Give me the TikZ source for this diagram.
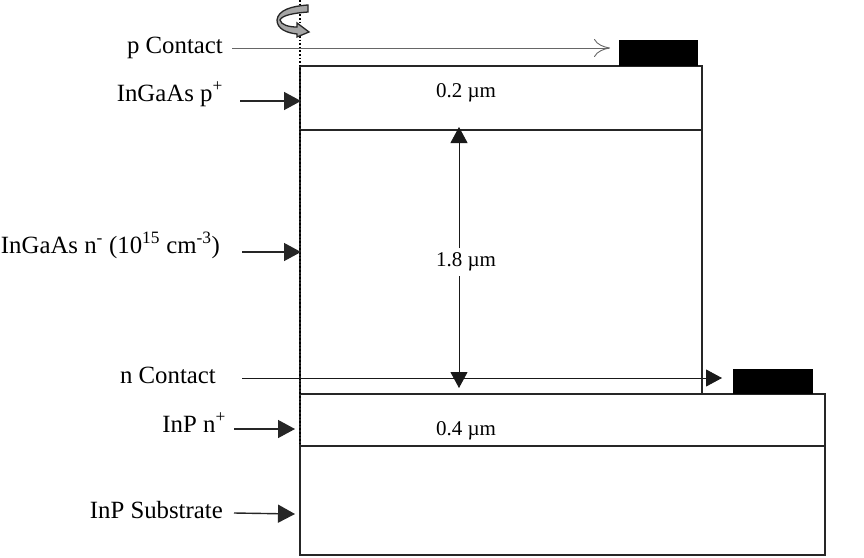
\documentclass[tikz,border=0pt]{standalone}
\usepackage{fontspec}
\setmainfont{Liberation Serif}
\usetikzlibrary{arrows.meta}
\begin{document}
\begin{tikzpicture}[x=1pt,y=-1pt]
      \useasboundingbox (0,0) rectangle (864,557);
      \tikzset{layerbox/.style={draw=black!85,line width=1.5pt},
        contactbox/.style={fill=black,draw=none},
        lbl/.style={font=\fontsize{24.8}{27}\selectfont,inner sep=0pt,anchor=base east},
        thick/.style={font=\fontsize{21}{24}\selectfont,inner sep=0pt},
        fatarrow/.style={-{Triangle[length=17pt,width=18pt]},draw=black!85,line width=1.4pt},
        thinarrow/.style={-{Triangle[length=16pt,width=17pt]},draw=black!90,line width=0.9pt},
        openarrow/.style={-{To[length=16pt,width=18pt]},draw=black!60,line width=0.9pt}}
      % layers
      \draw[layerbox] (300,66) rectangle (702,130);
      \draw[layerbox] (300,130) rectangle (702,394);
      \draw[layerbox] (300,394) rectangle (825,446);
      \draw[layerbox] (300,446) rectangle (825,555);
      \fill[contactbox] (619,40) rectangle (698,66);
      \fill[contactbox] (733,369) rectangle (813,394);
      % axis
      \coordinate (axistop) at (300,0);
      \coordinate (axisend) at (300,446);
      \draw[line width=1.6pt,dotted,black] (axistop) -- (axisend);
      % rotation
      \draw[line width=1.3pt,draw=black!85,fill=black!35]
        (308,5) .. controls (292,6) and (278,10) .. (277,20)
        .. controls (277,29) and (287,33) .. (297,34)
        -- (297,37) -- (309,32) -- (297,23) -- (297,27)
        .. controls (289,27) and (281,25) .. (280,20)
        .. controls (282,15) and (295,13) .. (308,12) -- cycle;
      % labels
      \node[lbl] (pc) at (223,53) {p Contact};
      \node[lbl] (ip) at (223,101) {InGaAs p\textsuperscript{+}};
      \node[lbl] (in) at (220,253) {InGaAs n\textsuperscript{-} (10\textsuperscript{15} cm\textsuperscript{-3})};
      \node[lbl] (nc) at (216,383) {n Contact};
      \node[lbl] (np) at (226,432) {InP n\textsuperscript{+}};
      \node[lbl] (sb) at (223,518) {InP Substrate};
      \node[thick] (d02) at (466,93) {0.2 µm};
      \node[thick] (d18) at (466,262) {1.8 µm};
      \node[thick] (d04) at (466,431) {0.4 µm};
      % arrow ends
      \coordinate (pcs) at (232,48);  \coordinate (pce) at (610,48);
      \coordinate (ips) at (240,101); \coordinate (ipe) at (301,101);
      \coordinate (ins) at (242,252); \coordinate (ine) at (301,252);
      \coordinate (ncs) at (242,378); \coordinate (nce) at (722,378);
      \coordinate (nps) at (234,429); \coordinate (npe) at (295,429);
      \coordinate (sbs) at (234,513); \coordinate (sbe) at (295,514);
      \coordinate (up) at (459,127);  \coordinate (dn) at (459,388);
      \draw[openarrow] (pcs) -- (pce);
      \draw[fatarrow] (ips) -- (ipe);
      \draw[fatarrow] (ins) -- (ine);
      \draw[thinarrow] (ncs) -- (nce);
      \draw[fatarrow] (nps) -- (npe);
      \draw[fatarrow] (sbs) -- (sbe);
      \draw[thinarrow] (459,248) -- (up);
      \draw[thinarrow] (459,276) -- (dn);
    \end{tikzpicture}
\end{document}
